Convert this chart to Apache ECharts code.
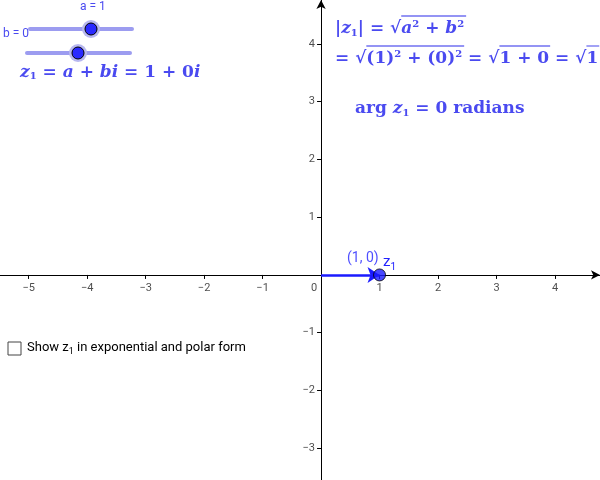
<!DOCTYPE html>
<html><head><meta charset="utf-8">
<script src="https://cdn.jsdelivr.net/npm/echarts@6/dist/echarts.min.js"></script>
<style>html,body{margin:0;padding:0;background:#fff}#c{width:600px;height:480px}</style>
</head><body><div id="c"></div>
<script>
const xTicks = [-5,-4,-3,-2,-1,0,1,2,3,4];
const yTicks = [-3,-2,-1,1,2,3,4];
const pointZ = [[1,0]];
const vector = [[0,0],[1,0]];
const pointLabel = '(1, 0)';
const blue = '#4a4af0';
const chart = echarts.init(document.getElementById('c'));
const fmt = v => (v < 0 ? '\u2212' + (-v) : String(v));
const B = 'bold 17px "DejaVu Serif"', I = 'italic bold 17px "DejaVu Serif"', S = 'bold 10px "DejaVu Serif"';
const rich15 = {i:{font:I,fill:blue},t:{font:B,fill:blue},s:{font:S,fill:blue,padding:[9,0,0,0]},p:{font:S,fill:blue,padding:[0,0,9,0]}};
const ol = (x1,x2,y) => ({type:'line',shape:{x1,y1:y,x2,y2:y},style:{stroke:'#7070f0',lineWidth:1.3}});
const ctx = document.createElement('canvas').getContext('2d');
const w = (s,f) => { ctx.font = f; return ctx.measureText(s).width; };
const s1 = 335 + w('|',B) + w('z',I) + w('1',S) + w('| = ',B) + w('\u221A',B);
const e1 = s1 + w('a',I)+w('2',S)+w(' + ',B)+w('b',I)+w('2',S);
const a1 = 335 + w('= ',B) + w('\u221A',B);
const a2 = a1 + w('(1)',B)+w('2',S)+w(' + (0)',B)+w('2',S);
const b1 = a2 + w(' = \u221A',B), b2 = b1 + w('1 + 0',B);
const c1 = b2 + w(' = \u221A',B), c2 = c1 + w('1',B);
chart.setOption({
  animation:false,
  grid:{left:0,right:0,top:0,bottom:0,containLabel:false,outerBoundsMode:'none'},
  xAxis:{type:'value',min:-5.49,max:4.77,
    axisLine:{onZero:true,symbol:['none','arrow'],symbolSize:[7,9],lineStyle:{color:'#000',width:1}},
    axisTick:{show:true,length:4,customValues:xTicks,lineStyle:{color:'#000'}},
    axisLabel:{show:false},
    splitLine:{show:false}},
  yAxis:{type:'value',min:-3.55,max:4.76,
    axisLine:{onZero:true,symbol:['none','arrow'],symbolSize:[7,9],lineStyle:{color:'#000',width:1}},
    axisTick:{show:true,length:4,customValues:yTicks,lineStyle:{color:'#000'}},
    axisLabel:{show:false},
    splitLine:{show:false}},
  series:[
    {type:'scatter',symbol:'circle',symbolSize:0,silent:true,
      data:xTicks.map(v=>v===0?{value:[v,0],label:{offset:[-7,0]}}:[v,0]),
      label:{show:true,position:'bottom',distance:8,formatter:p=>fmt(p.value[0]),color:'#222',fontSize:11,fontFamily:'Roboto'}},
    {type:'scatter',symbol:'circle',symbolSize:0,silent:true,data:yTicks.map(v=>[0,v]),
      label:{show:true,position:'left',distance:6,formatter:p=>fmt(p.value[1]),color:'#222',fontSize:11,fontFamily:'Roboto'}},
    {type:'lines',coordinateSystem:'cartesian2d',data:[{coords:vector}],
      symbol:['none','arrow'],symbolSize:12,lineStyle:{color:'#1a1aff',width:2.5,opacity:1},z:4},
    {type:'scatter',data:pointZ,symbolSize:12,itemStyle:{color:'#1a1aff',borderColor:'#000',borderWidth:1},z:5,
      label:{show:true,position:[-26,-17],formatter:pointLabel,color:'#2222ff',fontSize:14,fontFamily:'Roboto'}}
  ],
  graphic:[
    {type:'text',left:80,top:1,style:{text:'a = 1',fill:blue,font:'12px Roboto'}},
    {type:'text',left:3,top:28,style:{text:'b = 0',fill:blue,font:'12px Roboto'}},
    {type:'line',shape:{x1:30,y1:29,x2:132,y2:29},style:{stroke:'#9c9cf0',lineWidth:4,lineCap:'round'}},
    {type:'circle',shape:{cx:91,cy:29,r:9},style:{fill:'#b8b8f0'}},
    {type:'circle',shape:{cx:91,cy:29,r:6},style:{fill:'#2a2aff',stroke:'#000',lineWidth:1}},
    {type:'line',shape:{x1:27,y1:53,x2:130,y2:53},style:{stroke:'#9c9cf0',lineWidth:4,lineCap:'round'}},
    {type:'circle',shape:{cx:78,cy:53,r:9},style:{fill:'#b8b8f0'}},
    {type:'circle',shape:{cx:78,cy:53,r:6},style:{fill:'#2a2aff',stroke:'#000',lineWidth:1}},
    {type:'text',left:20,top:64,style:{text:'{i|z}{s|1}{t| = }{i|a}{t| + }{i|bi}{t| = 1 + 0}{i|i}',
      rich:{i:{font:'italic bold 17px "DejaVu Serif"',fill:blue},t:{font:'bold 17px "DejaVu Serif"',fill:blue},
        s:{font:'bold 10px "DejaVu Serif"',fill:blue,padding:[8,0,0,0]}}}},
    {type:'text',left:335,top:19,style:{text:'{t||}{i|z}{s|1}{t|| = \u221A}{i|a}{p|2}{t| + }{i|b}{p|2}',rich:rich15}},
    {type:'text',left:335,top:49,style:{text:'{t|= \u221A(1)}{p|2}{t| + (0)}{p|2}{t| = \u221A1 + 0 = \u221A1}',rich:rich15}},
    {type:'text',left:355,top:100,style:{text:'{t|arg }{i|z}{s|1}{t| = 0 radians}',rich:rich15}},
    {type:'text',left:383,top:255,style:{text:'z{s|1}',font:'15px Roboto',fill:'#2222ff',
      rich:{s:{font:'10px Roboto',fill:'#2222ff',padding:[9,0,0,0]}}}},
    {type:'rect',shape:{x:8,y:342,width:13,height:13},style:{fill:'#fff',stroke:'#444',lineWidth:1}},
    {type:'text',left:27,top:341,style:{text:'Show z{s|1} in exponential and polar form',font:'13px Roboto',fill:'#000',
      rich:{s:{font:'9px Roboto',fill:'#000',padding:[8,0,0,0]}}}},
    ol(s1,e1+2,16), ol(a1,a2+2,46), ol(b1,b2+1,46), ol(c1,c2+1,46)
  ]
});
</script></body></html>
